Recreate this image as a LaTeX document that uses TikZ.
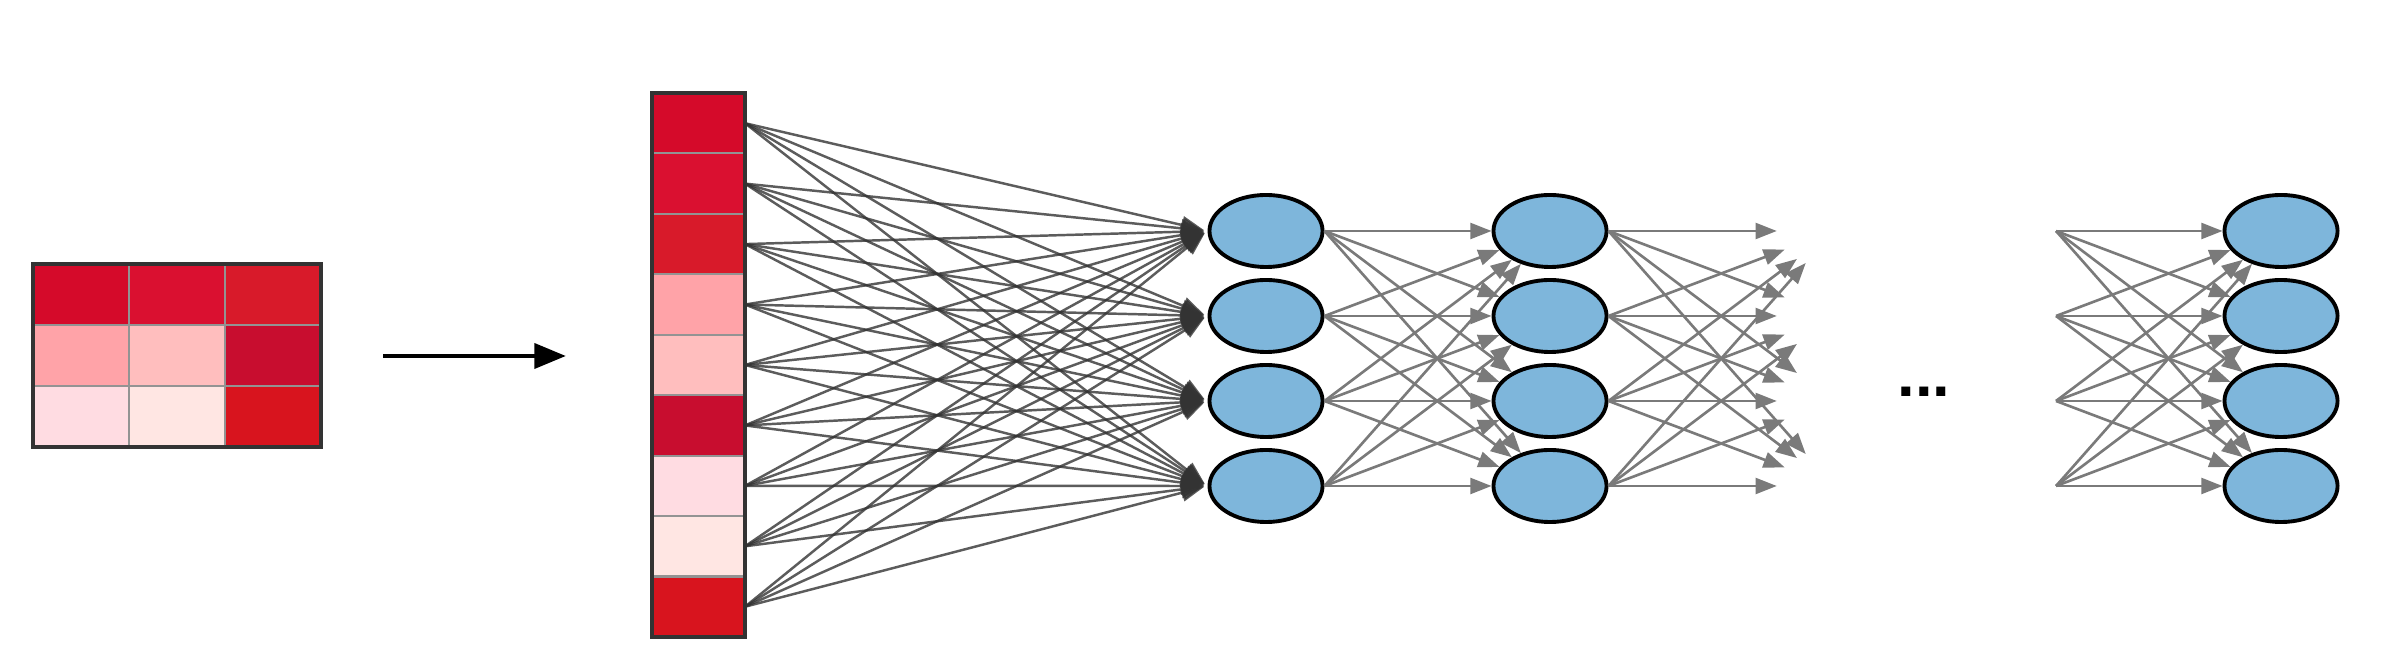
\documentclass[tikz,border=0pt]{standalone}
\usepackage{fontspec}
\newfontfamily\dotsfont{Liberation Sans}
\usetikzlibrary{shapes.geometric,arrows.meta}
\definecolor{ca}{HTML}{D50A2A}
\definecolor{cb}{HTML}{DA1030}
\definecolor{cc}{HTML}{D81A2A}
\definecolor{cd}{HTML}{FFA3A8}
\definecolor{ce}{HTML}{FFBEBE}
\definecolor{cf}{HTML}{C80D2F}
\definecolor{cg}{HTML}{FFDCE2}
\definecolor{ch}{HTML}{FFE6E3}
\definecolor{ci}{HTML}{D8141E}
\definecolor{nblue}{HTML}{7EB6DB}
\definecolor{edgegray}{HTML}{7A7A7A}
\definecolor{edgedark}{HTML}{333333}
\begin{document}
\begin{tikzpicture}[x=0.01cm,y=-0.01cm,
  neuron/.style={ellipse, draw=black, line width=1.1pt, fill=nblue,
    minimum width=1.13cm, minimum height=0.72cm, inner sep=0pt},
  phantom/.style={ellipse, minimum width=1.13cm, minimum height=0.72cm, inner sep=0pt},
  darkedge/.style={draw=edgedark, line width=0.7pt, opacity=0.8, shorten >=1pt,
    -{Triangle[length=6.5pt,width=5pt]}},
  grayedge/.style={draw=edgegray, line width=0.75pt,
    -{Triangle[length=6pt,width=4.5pt]}},
  sep/.style={draw=gray!85, line width=0.6pt},
  border/.style={draw=black!80, line width=0.9pt},
  mainarrow/.style={line width=1.4pt, -{Triangle[length=9pt,width=7pt]}}
]
\useasboundingbox (0,0) rectangle (2383,671);

% ---- input grid
\fill[ca] (33,264) rectangle (129,325);
\fill[cb] (129,264) rectangle (225,325);
\fill[cc] (225,264) rectangle (321,325);
\fill[cd] (33,325) rectangle (129,386);
\fill[ce] (129,325) rectangle (225,386);
\fill[cf] (225,325) rectangle (321,386);
\fill[cg] (33,386) rectangle (129,447);
\fill[ch] (129,386) rectangle (225,447);
\fill[ci] (225,386) rectangle (321,447);
\draw[sep] (129,264) -- (129,447) (225,264) -- (225,447)
           (33,325) -- (321,325) (33,386) -- (321,386);
\draw[border] (33,264) rectangle (321,447);

% ---- main arrow
\coordinate (a0) at (383,356);
\coordinate (a1) at (566,356);
\draw[mainarrow] (a0) -- (a1);

% ---- flattened vector
\foreach \col [count=\i from 0] in {ca,cb,cc,cd,ce,cf,cg,ch,ci}
  \fill[\col] (652,93+60.44*\i) rectangle (745,93+60.44*\i+60.44);
\foreach \i in {1,...,8}
  \draw[sep] (652,93+60.44*\i) -- (745,93+60.44*\i);
\draw[border] (652,93) rectangle (745,637);
\foreach \i in {1,...,9}
  \coordinate (v\i) at (745,93+60.44*\i-30.22);

% ---- layers
\foreach \j/\y in {1/231,2/316,3/401,4/486} {
  \node[neuron]  (La\j) at (1266,\y) {};
  \node[neuron]  (Lb\j) at (1550,\y) {};
  \node[phantom] (Lc\j) at (1834,\y) {};
  \coordinate    (s\j)  at (2056,\y);
  \node[neuron]  (Ld\j) at (2281,\y) {};
}

% ---- connectors
\foreach \i in {1,...,9}
  \foreach \j in {1,...,4}
    \draw[darkedge] (v\i) -- (La\j.west);
\foreach \i in {1,...,4}
  \foreach \j in {1,...,4} {
    \draw[grayedge] (La\i.east) -- (Lb\j);
    \draw[grayedge] (Lb\i.east) -- (Lc\j);
    \draw[grayedge] (s\i) -- (Ld\j);
  }

% ---- ellipsis
\node[anchor=base, inner sep=0pt, font=\dotsfont\bfseries\fontsize{18}{18}\selectfont]
  (dots) at (1924,397) {...};
\end{tikzpicture}
\end{document}
